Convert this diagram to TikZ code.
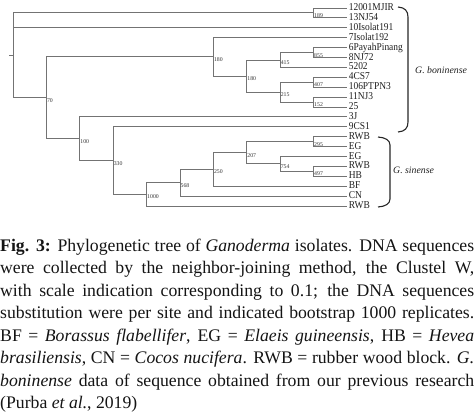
\documentclass[tikz,border=0pt]{standalone}
\usepackage{fontspec}
\usepackage{graphicx}
\setmainfont{Liberation Serif}
\newcommand{\lfx}[1]{\scalebox{0.9}[1]{#1}}
\begin{document}
\begin{tikzpicture}[x=1pt,y=-1pt,
  branch/.style={draw=black!55, line width=0.9pt},
  leaflab/.style={anchor=west, inner sep=0pt, xshift=1.6pt, text height=7.3pt, text depth=2.2pt, font=\fontsize{10.5}{10.5}\selectfont, text=black!88},
  bslab/.style={anchor=north west, inner sep=0.4pt, font=\fontsize{5.8}{5.8}\selectfont, text=black!80},
  bracepath/.style={draw=black!85, line width=1.1pt},
  cladelab/.style={anchor=west, inner sep=0pt, font=\fontsize{9.8}{9.8}\selectfont\itshape, text=black!88},
  capline/.style={anchor=base west, inner sep=0pt, font=\fontsize{17.7}{22}\selectfont, text=black!92}]
\useasboundingbox (0,0) rectangle (474,417);
% leaf tips
\foreach \i/\yy in {0/8.0,1/17.9,2/27.8,3/37.7,4/47.6,5/57.5,6/67.4,7/77.3,8/87.2,9/97.1,10/107.0,11/116.9,12/126.8,13/136.7,14/146.6,15/156.5,16/166.4,17/176.3,18/186.2,19/196.1,20/206.0}
  {\coordinate (t\i) at (347,\yy);}
% internal nodes
\coordinate (root) at (13,55.4);
\coordinate (rt) at (9,55.4);
\coordinate (n189) at (313.6,12.95);
\coordinate (n855) at (313.6,52.55);
\coordinate (n415) at (280.2,59.98);
\coordinate (n407) at (313.6,82.25);
\coordinate (n152) at (313.6,102.05);
\coordinate (n215) at (280.2,92.15);
\coordinate (n180b) at (246.8,76.06);
\coordinate (n180a) at (213.4,56.88);
\coordinate (n295) at (313.6,141.65);
\coordinate (n497) at (313.6,171.35);
\coordinate (n754) at (280.2,163.9);
\coordinate (n207) at (246.8,152.8);
\coordinate (n250) at (213.4,169.5);
\coordinate (n568) at (180,182.8);
\coordinate (n1000) at (146.6,194.4);
\coordinate (n330) at (113.2,160.6);
\coordinate (n100) at (79.8,138.75);
\coordinate (n70) at (46.4,97.8);
% branches
\draw[branch] (root) -- (rt);
\draw[branch] (root) |- (n189);
\draw[branch] (root) |- (t2);
\draw[branch] (root) |- (n70);
\draw[branch] (n189) |- (t0);
\draw[branch] (n189) |- (t1);
\draw[branch] (n70) |- (n180a);
\draw[branch] (n70) |- (n100);
\draw[branch] (n180a) |- (t3);
\draw[branch] (n180a) |- (n180b);
\draw[branch] (n180b) |- (n415);
\draw[branch] (n180b) |- (n215);
\draw[branch] (n415) |- (n855);
\draw[branch] (n415) |- (t6);
\draw[branch] (n855) |- (t4);
\draw[branch] (n855) |- (t5);
\draw[branch] (n215) |- (n407);
\draw[branch] (n215) |- (n152);
\draw[branch] (n407) |- (t7);
\draw[branch] (n407) |- (t8);
\draw[branch] (n152) |- (t9);
\draw[branch] (n152) |- (t10);
\draw[branch] (n100) |- (t11);
\draw[branch] (n100) |- (n330);
\draw[branch] (n330) |- (t12);
\draw[branch] (n330) |- (n1000);
\draw[branch] (n1000) |- (n568);
\draw[branch] (n1000) |- (t20);
\draw[branch] (n568) |- (n250);
\draw[branch] (n568) |- (t19);
\draw[branch] (n250) |- (n207);
\draw[branch] (n250) |- (t18);
\draw[branch] (n207) |- (n295);
\draw[branch] (n207) |- (n754);
\draw[branch] (n295) |- (t13);
\draw[branch] (n295) |- (t14);
\draw[branch] (n754) |- (t15);
\draw[branch] (n754) |- (n497);
\draw[branch] (n497) |- (t16);
\draw[branch] (n497) |- (t17);
% bootstrap labels
\node[bslab] (b189) at (n189) {189};
\node[bslab] (b855) at (n855) {855};
\node[bslab] (b415) at (n415) {415};
\node[bslab] (b407) at (n407) {407};
\node[bslab] (b152) at (n152) {152};
\node[bslab] (b215) at (n215) {215};
\node[bslab] (b180b) at (n180b) {180};
\node[bslab] (b180a) at (n180a) {180};
\node[bslab] (b295) at (n295) {295};
\node[bslab] (b497) at (n497) {497};
\node[bslab] (b754) at (n754) {754};
\node[bslab] (b207) at (n207) {207};
\node[bslab] (b250) at (n250) {250};
\node[bslab] (b568) at (n568) {568};
\node[bslab] (b1000) at (n1000) {1000};
\node[bslab] (b330) at (n330) {330};
\node[bslab] (b100) at (n100) {100};
\node[bslab] (b70) at (n70) {70};
% leaf labels
\node[leaflab] (L0) at (t0) {\lfx{12001MJIR}};
\node[leaflab] (L1) at (t1) {\lfx{13NJ54}};
\node[leaflab] (L2) at (t2) {\lfx{10Isolat191}};
\node[leaflab] (L3) at (t3) {\lfx{7Isolat192}};
\node[leaflab] (L4) at (t4) {\lfx{6PayahPinang}};
\node[leaflab] (L5) at (t5) {\lfx{8NJ72}};
\node[leaflab] (L6) at (t6) {\lfx{5202}};
\node[leaflab] (L7) at (t7) {\lfx{4CS7}};
\node[leaflab] (L8) at (t8) {\lfx{106PTPN3}};
\node[leaflab] (L9) at (t9) {\lfx{11NJ3}};
\node[leaflab] (L10) at (t10) {\lfx{25}};
\node[leaflab] (L11) at (t11) {\lfx{3J}};
\node[leaflab] (L12) at (t12) {\lfx{9CS1}};
\node[leaflab] (L13) at (t13) {\lfx{RWB}};
\node[leaflab] (L14) at (t14) {\lfx{EG}};
\node[leaflab] (L15) at (t15) {\lfx{EG}};
\node[leaflab] (L16) at (t16) {\lfx{RWB}};
\node[leaflab] (L17) at (t17) {\lfx{HB}};
\node[leaflab] (L18) at (t18) {\lfx{BF}};
\node[leaflab] (L19) at (t19) {\lfx{CN}};
\node[leaflab] (L20) at (t20) {\lfx{RWB}};
% clade braces
\draw[bracepath] (398,7) .. controls (405,7.5) and (408,11) .. (408,17) -- (408,122) .. controls (408,128) and (405,131.5) .. (398,132);
\node[cladelab] (gb) at (415,70) {G. boninense};
\draw[bracepath] (378,137) .. controls (385,137.5) and (390,140) .. (390,145) -- (390,199) .. controls (390,204) and (385,206.5) .. (378,207);
\node[cladelab] (gs) at (393,170) {G. sinense};
% caption
\node[capline] (c1) at (0,251) {\makebox[474pt][s]{\textbf{Fig. 3:} Phylogenetic tree of \textit{Ganoderma} isolates. DNA sequences}};
\node[capline] (c2) at (0,273.5) {\makebox[474pt][s]{were collected by the neighbor-joining method, the Clustel W,}};
\node[capline] (c3) at (0,296) {\makebox[474pt][s]{with scale indication corresponding to 0.1; the DNA sequences}};
\node[capline] (c4) at (0,318.5) {\makebox[474pt][s]{substitution were per site and indicated bootstrap 1000 replicates.}};
\node[capline] (c5) at (0,341) {\makebox[474pt][s]{BF = \textit{Borassus flabellifer}, EG = \textit{Elaeis guineensis}, HB = \textit{Hevea}}};
\node[capline] (c6) at (0,363.5) {\makebox[474pt][s]{\textit{brasiliensis}, CN = \textit{Cocos nucifera}. RWB = rubber wood block. \textit{G.}}};
\node[capline] (c7) at (0,386) {\makebox[474pt][s]{\textit{boninense} data of sequence obtained from our previous research}};
\node[capline] (c8) at (0,408.5) {(Purba \textit{et al.}, 2019)};
\end{tikzpicture}
\end{document}
